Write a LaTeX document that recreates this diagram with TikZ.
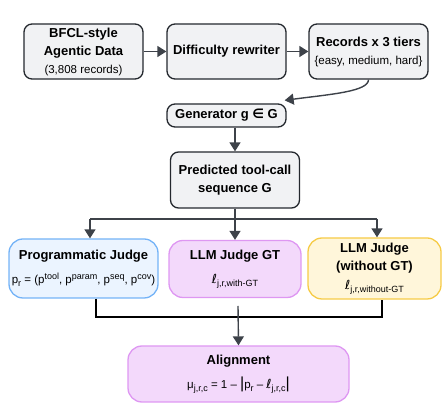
\documentclass[tikz,border=0pt]{standalone}
\usepackage{fontspec}
\setmainfont{Liberation Sans}
\newfontfamily\symfont{DejaVu Sans}
\usetikzlibrary{arrows.meta}

\definecolor{boxgray}{HTML}{F1F2F4}
\definecolor{edgegray}{HTML}{24282E}
\definecolor{arrgray}{HTML}{3D4249}
\definecolor{bluefill}{HTML}{EBF4FF}
\definecolor{blueedge}{HTML}{74B3F7}
\definecolor{violetfill}{HTML}{F3D9FB}
\definecolor{violetedge}{HTML}{DE97F2}
\definecolor{yellowfill}{HTML}{FFF6DA}
\definecolor{yellowedge}{HTML}{F6CB46}

\newcommand{\subline}{\fontsize{11.5}{13}\selectfont\mdseries}
\newcommand{\judgel}{{\symfont\fontsize{12.5}{13}\selectfont ℓ}}
\newcommand{\bigbar}{{\fontsize{16}{16}\selectfont|}}
\newcommand{\lo}[1]{\raisebox{-2.8pt}{\fontsize{9}{9}\selectfont #1}}
\newcommand{\hi}[1]{\raisebox{4.5pt}{\fontsize{9}{9}\selectfont #1}}

\tikzset{
  stagebox/.style={draw=edgegray,fill=boxgray,line width=1.3pt,rounded corners=8pt,align=center,inner sep=0pt,font=\fontsize{13}{18}\selectfont\bfseries},
  judgebox/.style={line width=1.3pt,rounded corners=14pt,align=center,inner sep=0pt,font=\fontsize{13}{18}\selectfont\bfseries},
  arr/.style={draw=arrgray,line width=1.4pt,-{Triangle[length=9pt,width=11pt]}},
  link/.style={draw=black,line width=1.1pt}
}

\begin{document}
\begin{tikzpicture}[x=1pt,y=1pt]
\useasboundingbox (0,0) rectangle (446,411);

% top row
\node[stagebox,minimum width=119pt,minimum height=55pt] (data) at (83.5,359.5) {BFCL-style\\Agentic Data\\{\subline (3,808 records)}};
\node[stagebox,minimum width=119pt,minimum height=55pt] (rewriter) at (226.5,359.5) {Difficulty rewriter};
\node[stagebox,minimum width=119pt,minimum height=55pt] (tiers) at (368.5,359.5) {Records x 3 tiers\\{\subline \{easy, medium, hard\}}};

\node[stagebox,minimum width=119pt,minimum height=23pt] (gen) at (226.5,295.5) {Generator g {\symfont ∈} G};
\node[stagebox,minimum width=129pt,minimum height=56pt] (pred) at (235,231) {Predicted tool-call\\sequence G};

% judges
\node[judgebox,draw=blueedge,fill=bluefill,minimum width=149pt,minimum height=59pt] (prog) at (83.5,142.5) {Programmatic Judge\\[6pt]{\subline p\lo{r} = (p\hi{tool}, p\hi{param}, p\hi{seq}, p\hi{cov})}};
\node[judgebox,draw=violetedge,fill=violetfill,minimum width=132pt,minimum height=57pt] (gt) at (235,142) {LLM Judge GT\\[6pt]{\subline \judgel\lo{j,r,with-GT}}};
\node[judgebox,draw=yellowedge,fill=yellowfill,minimum width=133pt,minimum height=61pt] (nogt) at (374.5,142.5) {LLM Judge\\(without GT)\\[1pt]{\subline \judgel\lo{j,r,without-GT}}};

\node[judgebox,draw=violetedge,fill=violetfill,minimum width=221pt,minimum height=56pt] (align) at (238.5,37) {Alignment\\[6pt]{\subline μ\lo{j,r,c} = 1 – \bigbar p\lo{r} – \judgel\lo{j,r,c}\bigbar}};

% connectors
\draw[arr] (data) -- (rewriter);
\draw[arr] (rewriter) -- (tiers);
\draw[arr] (tiers.south) .. controls +(0,-12) and +(45,6) .. ([xshift=-2pt,yshift=3pt]gen.north east);
\draw[arr] (pred.north |- gen.south) -- (pred.north);

\coordinate (split) at (235,192);
\coordinate (sl) at (90,192);
\coordinate (sr) at (377,192);
\draw[link,draw=arrgray] (pred.south) -- (split);
\draw[link,draw=arrgray] (sl) -- (sr);
\draw[arr] (sl) -- (sl |- prog.north);
\draw[arr] (split) -- (gt.north);
\draw[arr] (sr) -- (sr |- nogt.north);

\coordinate (bl) at (96,94);
\coordinate (br) at (382,94);
\coordinate (merge) at (238,105);
\draw[link] (bl |- prog.south) -- (bl) -- (br) -- (br |- nogt.south);
\draw[arr] (merge) -- (align.north);
\end{tikzpicture}
\end{document}
